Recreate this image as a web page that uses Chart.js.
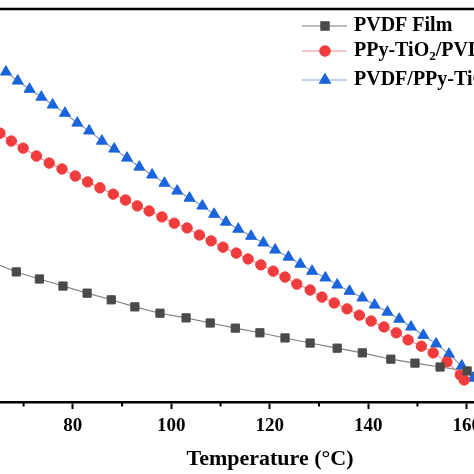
<!DOCTYPE html>
<html>
<head>
<meta charset="utf-8">
<script src="https://cdn.jsdelivr.net/npm/chart.js@4.4.1/dist/chart.umd.min.js"></script>
<style>
  html, body { margin: 0; padding: 0; background: #fff; }
  #wrap { position: relative; width: 474px; height: 474px; overflow: hidden; }
  #c { position: absolute; left: 0; top: 0; }
</style>
</head>
<body>
<div id="wrap"><canvas id="c" width="560" height="474"></canvas></div>
<script>
// ---- Data (x: Temperature °C, y: arbitrary units) ----
const pvdfTemp = [63.7, 68.5, 73.2, 78.0, 82.9, 87.8, 92.6, 97.7, 103.0, 107.9, 113.0, 118.0, 123.1, 128.2, 133.7, 138.8, 144.6, 149.5, 154.6, 160.1];
const pvdfVal  = [3.55, 3.31, 3.13, 2.95, 2.77, 2.60, 2.42, 2.26, 2.14, 2.01, 1.88, 1.76, 1.63, 1.50, 1.37, 1.25, 1.09, 0.99, 0.89, 0.79];

const ptpTemp = [65.2, 67.5, 69.9, 72.6, 75.2, 77.8, 80.5, 83.0, 85.5, 88.2, 90.7, 93.1, 95.5, 98.1, 100.6, 103.2, 105.7, 108.1, 110.5, 113.2, 115.6, 118.2, 120.7, 123.1, 125.5, 128.2, 130.6, 133.1, 135.7, 138.2, 140.6, 143.2, 145.7, 148.1, 150.8, 153.2, 156.0, 158.7, 159.5];
const ptpVal  = [6.84, 6.64, 6.46, 6.26, 6.08, 5.93, 5.75, 5.60, 5.45, 5.29, 5.14, 4.99, 4.86, 4.71, 4.55, 4.43, 4.25, 4.10, 3.94, 3.79, 3.64, 3.49, 3.33, 3.18, 3.00, 2.85, 2.67, 2.52, 2.37, 2.21, 2.06, 1.91, 1.76, 1.58, 1.42, 1.25, 1.02, 0.69, 0.56];

const pptTemp = [66.4, 68.8, 71.2, 73.6, 75.9, 78.4, 80.9, 83.3, 85.9, 88.4, 91.0, 93.5, 96.1, 98.6, 101.2, 103.7, 106.3, 108.7, 111.1, 113.6, 116.2, 118.7, 121.1, 123.8, 126.2, 128.6, 131.3, 133.7, 136.2, 138.8, 141.3, 143.9, 146.3, 148.7, 151.2, 153.8, 156.4, 159.0, 161.3];
const pptVal  = [8.40, 8.17, 7.96, 7.76, 7.56, 7.35, 7.10, 6.90, 6.64, 6.44, 6.21, 5.98, 5.78, 5.57, 5.37, 5.19, 4.99, 4.78, 4.58, 4.40, 4.22, 4.05, 3.87, 3.69, 3.51, 3.33, 3.16, 2.98, 2.82, 2.65, 2.47, 2.29, 2.11, 1.91, 1.70, 1.48, 1.22, 0.92, 0.61];

// legend labels: [main text, subscript, text after subscript]
const seriesLabels = [
  ["PVDF Film", "", ""],
  ["PPy-TiO", "2", "/PVDF"],
  ["PVDF/PPy-TiO", "2", ""]
];
const xTitle = "Temperature (°C)";
const xMajorStep = 20;
const xMinorTicks = [70, 90, 110, 130, 150, 170];

function pts(xs, ys) { return xs.map((x, i) => ({ x: x, y: ys[i] })); }

const SERIF = "'Liberation Serif', 'Times New Roman', serif";

const frameAndLegend = {
  id: 'frameAndLegend',
  afterDraw(chart) {
    const ctx = chart.ctx;
    const a = chart.chartArea;
    const xs = chart.scales.x;
    ctx.save();
    // top and right frame
    ctx.strokeStyle = '#000';
    ctx.lineWidth = 2.5;
    ctx.beginPath();
    ctx.moveTo(a.left, a.top);
    ctx.lineTo(a.right, a.top);
    ctx.lineTo(a.right, a.bottom);
    ctx.stroke();
    // minor ticks on bottom axis
    ctx.lineWidth = 2;
    ctx.beginPath();
    xMinorTicks.forEach(v => {
      const px = xs.getPixelForValue(v);
      ctx.moveTo(px, a.bottom);
      ctx.lineTo(px, a.bottom + 4.5);
    });
    ctx.stroke();
    // legend
    const rowsY = [26, 51, 80];
    const lx0 = 302, lx1 = 347, mx = 325, tx = 354;
    chart.data.datasets.forEach((ds, i) => {
      const y = rowsY[i];
      ctx.strokeStyle = ds.legendLineColor;
      ctx.lineWidth = 1.2;
      ctx.beginPath();
      ctx.moveTo(lx0, y);
      ctx.lineTo(lx1, y);
      ctx.stroke();
      ctx.fillStyle = ds.pointBackgroundColor;
      ctx.strokeStyle = ds.pointBorderColor;
      Chart.helpers.drawPoint(ctx, { pointStyle: ds.pointStyle, radius: ds.pointRadius, rotation: 0, borderWidth: 1 }, mx, y);
      const [t1, sub, t2] = seriesLabels[i];
      ctx.fillStyle = '#000';
      ctx.textBaseline = 'middle';
      ctx.textAlign = 'left';
      ctx.font = "bold 20px " + SERIF;
      ctx.fillText(t1, tx, y);
      let cx = tx + ctx.measureText(t1).width;
      if (sub) {
        ctx.font = "bold 13px " + SERIF;
        ctx.fillText(sub, cx, y + 6);
        cx += ctx.measureText(sub).width;
      }
      if (t2) {
        ctx.font = "bold 20px " + SERIF;
        ctx.fillText(t2, cx, y);
      }
    });
    ctx.restore();
  }
};

new Chart(document.getElementById('c'), {
  type: 'line',
  data: {
    datasets: [
      {
        label: 'PVDF Film',
        data: pts(pvdfTemp, pvdfVal),
        borderColor: '#808080', borderWidth: 1.1,
        pointStyle: 'rect', pointRadius: 5.8,
        pointBackgroundColor: '#4a4a4a', pointBorderColor: '#4a4a4a', pointBorderWidth: 1,
        legendLineColor: '#7a7a7a',
        tension: 0
      },
      {
        label: 'PPy-TiO2/PVDF',
        data: pts(ptpTemp, ptpVal),
        borderColor: '#e88a8a', borderWidth: 1.1,
        pointStyle: 'circle', pointRadius: 5.2,
        pointBackgroundColor: '#f03c3c', pointBorderColor: '#f03c3c', pointBorderWidth: 1,
        legendLineColor: '#ee8c8c',
        tension: 0
      },
      {
        label: 'PVDF/PPy-TiO2',
        data: pts(pptTemp, pptVal),
        borderColor: '#7b93bd', borderWidth: 1.1,
        pointStyle: 'triangle', pointRadius: 6.3,
        pointBackgroundColor: '#1a64dc', pointBorderColor: '#1a64dc', pointBorderWidth: 1,
        legendLineColor: '#8aa6d6',
        tension: 0
      }
    ]
  },
  options: {
    responsive: false,
    devicePixelRatio: 1,
    animation: false,
    layout: { autoPadding: false, padding: { top: 9, left: 0, right: 20, bottom: 0 } },
    plugins: { legend: { display: false }, tooltip: { enabled: false } },
    scales: {
      x: {
        type: 'linear',
        position: 'bottom',
        min: 65.2,
        max: 174.9,
        afterFit(scale) { scale.height = 72; },
        grid: { drawOnChartArea: false, drawTicks: true, tickLength: 7, tickWidth: 2, tickColor: '#000' },
        border: { display: true, color: '#000', width: 2.5 },
        ticks: {
          stepSize: xMajorStep,
          includeBounds: false,
          color: '#000',
          padding: 6,
          maxRotation: 0,
          font: { family: SERIF, size: 19, weight: 'bold' }
        },
        title: {
          display: true,
          text: xTitle,
          color: '#000',
          padding: { top: 0, bottom: 1 },
          font: { family: SERIF, size: 22, weight: 'bold' }
        }
      },
      y: {
        display: false,
        min: 0,
        max: 10
      }
    }
  },
  plugins: [frameAndLegend]
});
</script>
</body>
</html>
